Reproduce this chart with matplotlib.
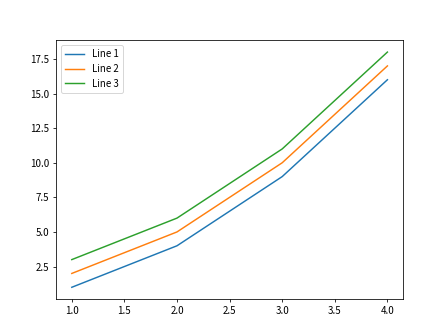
import matplotlib
matplotlib.use("Agg")
from matplotlib import pyplot as plt

plt.rcParams['font.family'] = ['Noto Sans CJK SC', 'DejaVu Sans']

# Data
x = [1, 2, 3, 4]
line1 = [1, 4, 9, 16]
line2 = [2, 5, 10, 17]
line3 = [3, 6, 11, 18]

fig, ax = plt.subplots(figsize=(6.4, 4.8), dpi=70)
ax.plot(x, line1, label="Line 1")
ax.plot(x, line2, label="Line 2")
ax.plot(x, line3, label="Line 3")
ax.legend()

fig.savefig("out.png", dpi=70)
